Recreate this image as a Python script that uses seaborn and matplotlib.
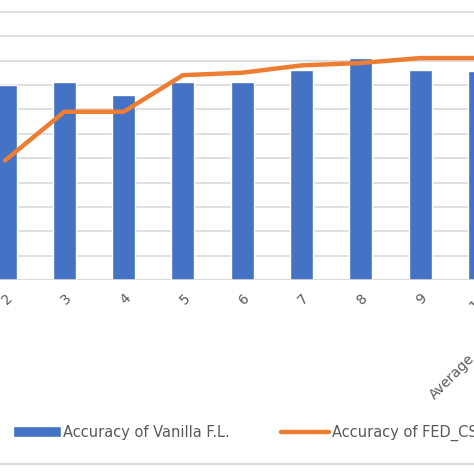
import matplotlib
matplotlib.use('Agg')
import matplotlib.pyplot as plt
import pandas as pd
import seaborn as sns
from matplotlib.lines import Line2D
from matplotlib.patches import Patch

rounds = [2, 3, 4, 5, 6, 7, 8, 9, 10]
vanilla_acc = [8.0, 8.1, 7.6, 8.1, 8.1, 8.6, 9.1, 8.6, 8.57]
fed_acc = [4.9, 6.9, 6.9, 8.4, 8.5, 8.8, 8.9, 9.1, 9.1]
tick_labels = ['2', '3', '4', '5', '6', '7', '8', '9', '10']
extra_label = 'Average'

df = pd.DataFrame({'round': rounds, 'vanilla': vanilla_acc, 'fed': fed_acc})

sns.set_style('white')
fig = plt.figure(figsize=(4.74, 4.74), dpi=100)
ax = fig.add_axes([-0.052, 0.409, 1.251, 0.592])

sns.barplot(data=df, x='round', y='vanilla', native_scale=True, width=0.39,
            color='#4472C4', saturation=1, ax=ax, zorder=2)
sns.lineplot(data=df, x='round', y='fed', color='#ED7D31', linewidth=3.2,
             ax=ax, zorder=3)

ax.set_xlim(1.5, 11.5)
ax.set_ylim(0, 11.5)
ax.set_yticks(range(0, 12))
ax.set_yticklabels([])
ax.yaxis.grid(True, color='#d9d9d9', linewidth=1.2, zorder=0)
ax.set_axisbelow(True)
ax.set_xticks(rounds)
ax.set_xticklabels(tick_labels, rotation=45, ha='right', va='top',
                   rotation_mode='anchor', fontsize=10, color='#595959')
ax.tick_params(axis='x', length=0, pad=8)
ax.set_xlabel('')
ax.set_ylabel('')
for s in ax.spines.values():
    s.set_visible(False)
ax.axhline(0, color='#d9d9d9', linewidth=1.2)

fig.text(437 / 474, 1 - 402 / 474, extra_label, rotation=45, ha='left', va='bottom',
         rotation_mode='anchor', fontsize=10, color='#595959')

handles = [Patch(facecolor='#4472C4', label='Accuracy of Vanilla F.L.'),
           Line2D([0], [0], color='#ED7D31', linewidth=3.2, label='Accuracy of FED_CS')]
fig.legend(handles=handles, loc='center left', bbox_to_anchor=(0.0, 0.087), ncol=2,
           frameon=False, fontsize=10.5, handlelength=3.3, handletextpad=0.15,
           columnspacing=3.5, labelcolor='#595959')

fig.add_artist(Line2D([0, 1], [0.022, 0.022], color='#d9d9d9', linewidth=1.5))

fig.savefig('out.png', dpi=100)
